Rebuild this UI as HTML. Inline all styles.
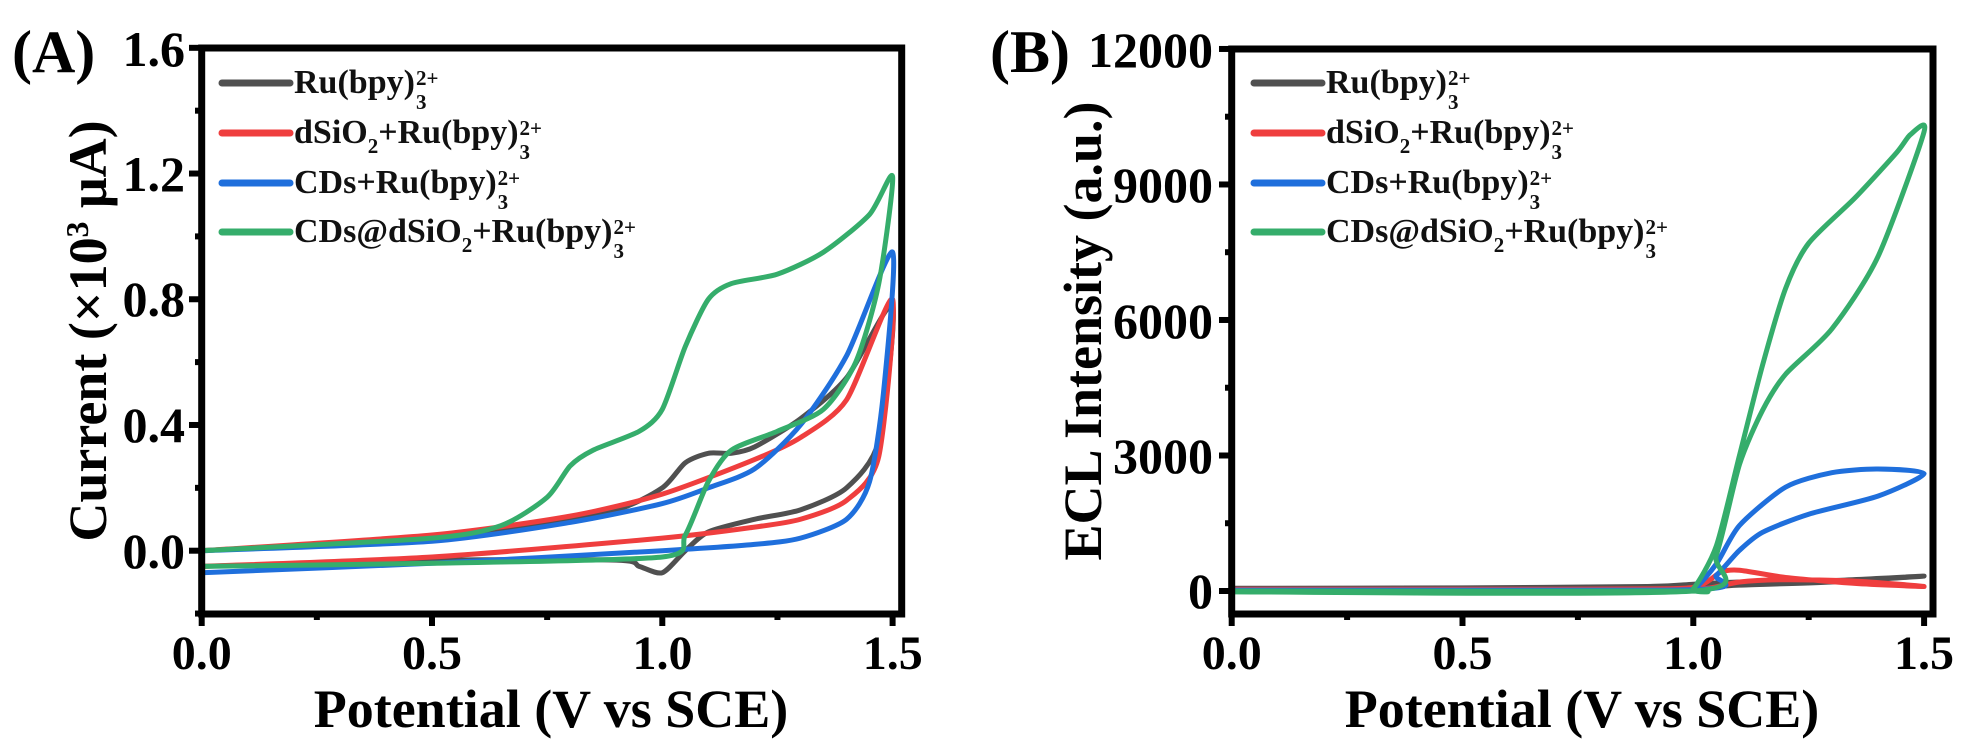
<!DOCTYPE html>
<html><head><meta charset="utf-8">
<style>
html,body{margin:0;padding:0;background:#fff;}
body{width:1964px;height:748px;position:relative;overflow:hidden;font-family:"Liberation Serif",serif;font-weight:bold;}
.leg{position:absolute;font-size:34px;line-height:34px;white-space:nowrap;color:#111;}
.ss{display:inline-block;position:relative;width:22px;height:10px;}
.ss .sp{position:absolute;left:1px;top:-22px;font-size:21px;}
.ss .sb{position:absolute;left:1px;top:2px;font-size:21px;}
.sub2{font-size:21px;position:relative;top:10px;}
</style></head><body>
<svg id="s" width="1964" height="748" style="position:absolute;left:0;top:0" font-family="Liberation Serif, serif" font-weight="bold">
<g id="curvesA"></g><g id="curvesB"></g>
<g fill="none" stroke="#000" stroke-width="7">
<rect x="201.7" y="48" width="700" height="566"/>
<rect x="1231.7" y="49" width="701.3" height="565"/>
</g>
<g id="ticks" stroke="#000" stroke-width="6"></g>
<g font-size="50" fill="#000" text-anchor="end">
<text x="185" y="568">0.0</text><text x="185" y="442">0.4</text><text x="185" y="316">0.8</text><text x="185" y="191">1.2</text><text x="185" y="66">1.6</text>
<text x="1213" y="608">0</text><text x="1213" y="473">3000</text><text x="1213" y="338">6000</text><text x="1213" y="202">9000</text><text x="1213" y="67">12000</text>
</g>
<g font-size="48" fill="#000" text-anchor="middle">
<text x="201.7" y="669">0.0</text><text x="432" y="669">0.5</text><text x="662.5" y="669">1.0</text><text x="892.7" y="669">1.5</text>
<text x="1231.7" y="669">0.0</text><text x="1462.5" y="669">0.5</text><text x="1693" y="669">1.0</text><text x="1924" y="669">1.5</text>
</g>
<g font-size="54" fill="#000" text-anchor="middle">
<text x="551" y="727">Potential (V vs SCE)</text>
<text x="1582" y="727">Potential (V vs SCE)</text>
<text transform="translate(106,331) rotate(-90)">Current (×10<tspan dy="-18" font-size="32">3</tspan><tspan dy="18"> μA)</tspan></text>
<text transform="translate(1101,331) rotate(-90)">ECL Intensity (a.u.)</text>
</g>
<g font-size="60" fill="#000">
<text x="12" y="72">(A)</text>
<text x="990" y="72">(B)</text>
</g>
<g stroke-width="7" stroke-linecap="round">
<line x1="222" y1="83" x2="290" y2="83" stroke="#505050"/>
<line x1="222" y1="133" x2="290" y2="133" stroke="#ef3e3e"/>
<line x1="222" y1="183" x2="290" y2="183" stroke="#1f6fdc"/>
<line x1="222" y1="232" x2="290" y2="232" stroke="#35ad6b"/>
<line x1="1254" y1="83" x2="1322" y2="83" stroke="#505050"/>
<line x1="1254" y1="133" x2="1322" y2="133" stroke="#ef3e3e"/>
<line x1="1254" y1="183" x2="1322" y2="183" stroke="#1f6fdc"/>
<line x1="1254" y1="232" x2="1322" y2="232" stroke="#35ad6b"/>
</g>
</svg>
<div class="leg" style="left:294px;top:66px">Ru(bpy)<span class="ss"><span class="sp">2+</span><span class="sb">3</span></span></div>
<div class="leg" style="left:294px;top:116px">dSiO<span class="sub2">2</span>+Ru(bpy)<span class="ss"><span class="sp">2+</span><span class="sb">3</span></span></div>
<div class="leg" style="left:294px;top:166px">CDs+Ru(bpy)<span class="ss"><span class="sp">2+</span><span class="sb">3</span></span></div>
<div class="leg" style="left:294px;top:215px">CDs@dSiO<span class="sub2">2</span>+Ru(bpy)<span class="ss"><span class="sp">2+</span><span class="sb">3</span></span></div>
<div class="leg" style="left:1326px;top:66px">Ru(bpy)<span class="ss"><span class="sp">2+</span><span class="sb">3</span></span></div>
<div class="leg" style="left:1326px;top:116px">dSiO<span class="sub2">2</span>+Ru(bpy)<span class="ss"><span class="sp">2+</span><span class="sb">3</span></span></div>
<div class="leg" style="left:1326px;top:166px">CDs+Ru(bpy)<span class="ss"><span class="sp">2+</span><span class="sb">3</span></span></div>
<div class="leg" style="left:1326px;top:215px">CDs@dSiO<span class="sub2">2</span>+Ru(bpy)<span class="ss"><span class="sp">2+</span><span class="sb">3</span></span></div>
<script>
var NS="http://www.w3.org/2000/svg";
function XA(v){return 201.7+v*460.6}function YA(c){return 550.7-c*314.3}
function XB(v){return 1231.7+v*461.6}function YB(i){return 591-i*0.04517}
function path(pts,fx,fy){var p=pts.map(function(a){return[fx(a[0]),fy(a[1])]});
var d="M"+p[0][0]+","+p[0][1];
for(var i=0;i<p.length-1;i++){var p0=p[Math.max(i-1,0)],p1=p[i],p2=p[i+1],p3=p[Math.min(i+2,p.length-1)];
var k=8;
var c1x=p1[0]+(p2[0]-p0[0])/k,c1y=p1[1]+(p2[1]-p0[1])/k,c2x=p2[0]-(p3[0]-p1[0])/k,c2y=p2[1]-(p3[1]-p1[1])/k;
d+=" C"+c1x+","+c1y+" "+c2x+","+c2y+" "+p2[0]+","+p2[1];}return d;}
function add(g,pts,fx,fy,col){var e=document.createElementNS(NS,"path");e.setAttribute("d",path(pts,fx,fy));
e.setAttribute("fill","none");e.setAttribute("stroke",col);e.setAttribute("stroke-width","5");e.setAttribute("stroke-linejoin","round");document.getElementById(g).appendChild(e);}
var A={
"#505050":[[0,0],[0.5,0.04],[0.7,0.08],[0.9,0.13],[1.0,0.2],[1.05,0.28],[1.1,0.31],[1.15,0.31],[1.2,0.33],[1.3,0.42],[1.4,0.55],[1.5,0.78],[1.47,0.35],[1.4,0.2],[1.3,0.13],[1.2,0.1],[1.1,0.06],[1.05,0.0],[1.0,-0.07],[0.95,-0.05],[0.9,-0.03],[0.5,-0.03],[0,-0.05]],
"#ef3e3e":[[0,0],[0.5,0.05],[0.8,0.11],[1.0,0.18],[1.2,0.29],[1.3,0.36],[1.4,0.48],[1.5,0.8],[1.47,0.3],[1.4,0.16],[1.3,0.1],[1.2,0.075],[1.0,0.04],[0.5,-0.02],[0,-0.05]],
"#1f6fdc":[[0,0],[0.5,0.03],[0.8,0.09],[1.0,0.15],[1.1,0.2],[1.2,0.26],[1.3,0.4],[1.4,0.62],[1.5,0.95],[1.48,0.5],[1.45,0.22],[1.4,0.1],[1.3,0.04],[1.2,0.02],[1.0,0.0],[0.5,-0.04],[0,-0.07]],
"#35ad6b":[[0,0],[0.5,0.04],[0.65,0.08],[0.75,0.17],[0.8,0.27],[0.85,0.32],[0.95,0.38],[1.0,0.45],[1.05,0.65],[1.1,0.8],[1.15,0.85],[1.25,0.88],[1.35,0.95],[1.45,1.07],[1.5,1.19],[1.47,0.85],[1.42,0.6],[1.35,0.45],[1.25,0.38],[1.15,0.32],[1.1,0.22],[1.05,0.05],[1.0,-0.02],[0.5,-0.04],[0,-0.05]]};
for(var k in A)add("curvesA",A[k],XA,YA,k);
var B={
"#505050":[[0,60],[0.5,70],[0.9,100],[1.0,150],[1.1,200],[1.3,230],[1.5,330],[1.3,200],[1.1,130],[1.0,90],[0.5,60],[0,50]],
"#ef3e3e":[[0,40],[0.5,40],[0.95,50],[1.02,150],[1.06,420],[1.1,460],[1.2,300],[1.35,170],[1.5,100],[1.35,220],[1.2,250],[1.1,200],[1.03,60],[0.9,30],[0,30]],
"#1f6fdc":[[0,20],[0.95,20],[1.0,40],[1.05,600],[1.1,1450],[1.2,2300],[1.3,2620],[1.4,2700],[1.5,2600],[1.4,2100],[1.25,1700],[1.15,1300],[1.1,900],[1.05,350],[1.0,30],[0,10]],
"#35ad6b":[[0,0],[0.97,0],[1.0,50],[1.05,1000],[1.1,3000],[1.15,5000],[1.2,6700],[1.25,7700],[1.35,8700],[1.44,9700],[1.47,10100],[1.5,10170],[1.4,7400],[1.3,5800],[1.2,4800],[1.15,4000],[1.1,2800],[1.05,800],[1.0,0],[0,-20]]};
for(var k in B)add("curvesB",B[k],XB,YB,k);
var t=document.getElementById("ticks"),h="";
function L(x1,y1,x2,y2){h+='<line x1="'+x1+'" y1="'+y1+'" x2="'+x2+'" y2="'+y2+'"/>';}
for(var c=-0.2;c<=1.61;c+=0.2){var y=YA(c);var maj=Math.abs((c*10)%4)<0.01||Math.abs(Math.abs((c*10)%4)-4)<0.01;L(201.7,y,maj?189:195,y);}
for(var v=0;v<=1.51;v+=0.25){var x=XA(v);var maj=Math.abs((v*4)%2)<0.01;L(x,614,x,maj?626:620);}
for(var i=0;i<=12000;i+=1500){var y=YB(i);L(1231.7,y,(i%3000==0)?1219:1225,y);}
for(var v=0;v<=1.51;v+=0.25){var x=XB(v);var maj=Math.abs((v*4)%2)<0.01;L(x,614,x,maj?626:620);}
t.innerHTML=h;
</script>
</body></html>
